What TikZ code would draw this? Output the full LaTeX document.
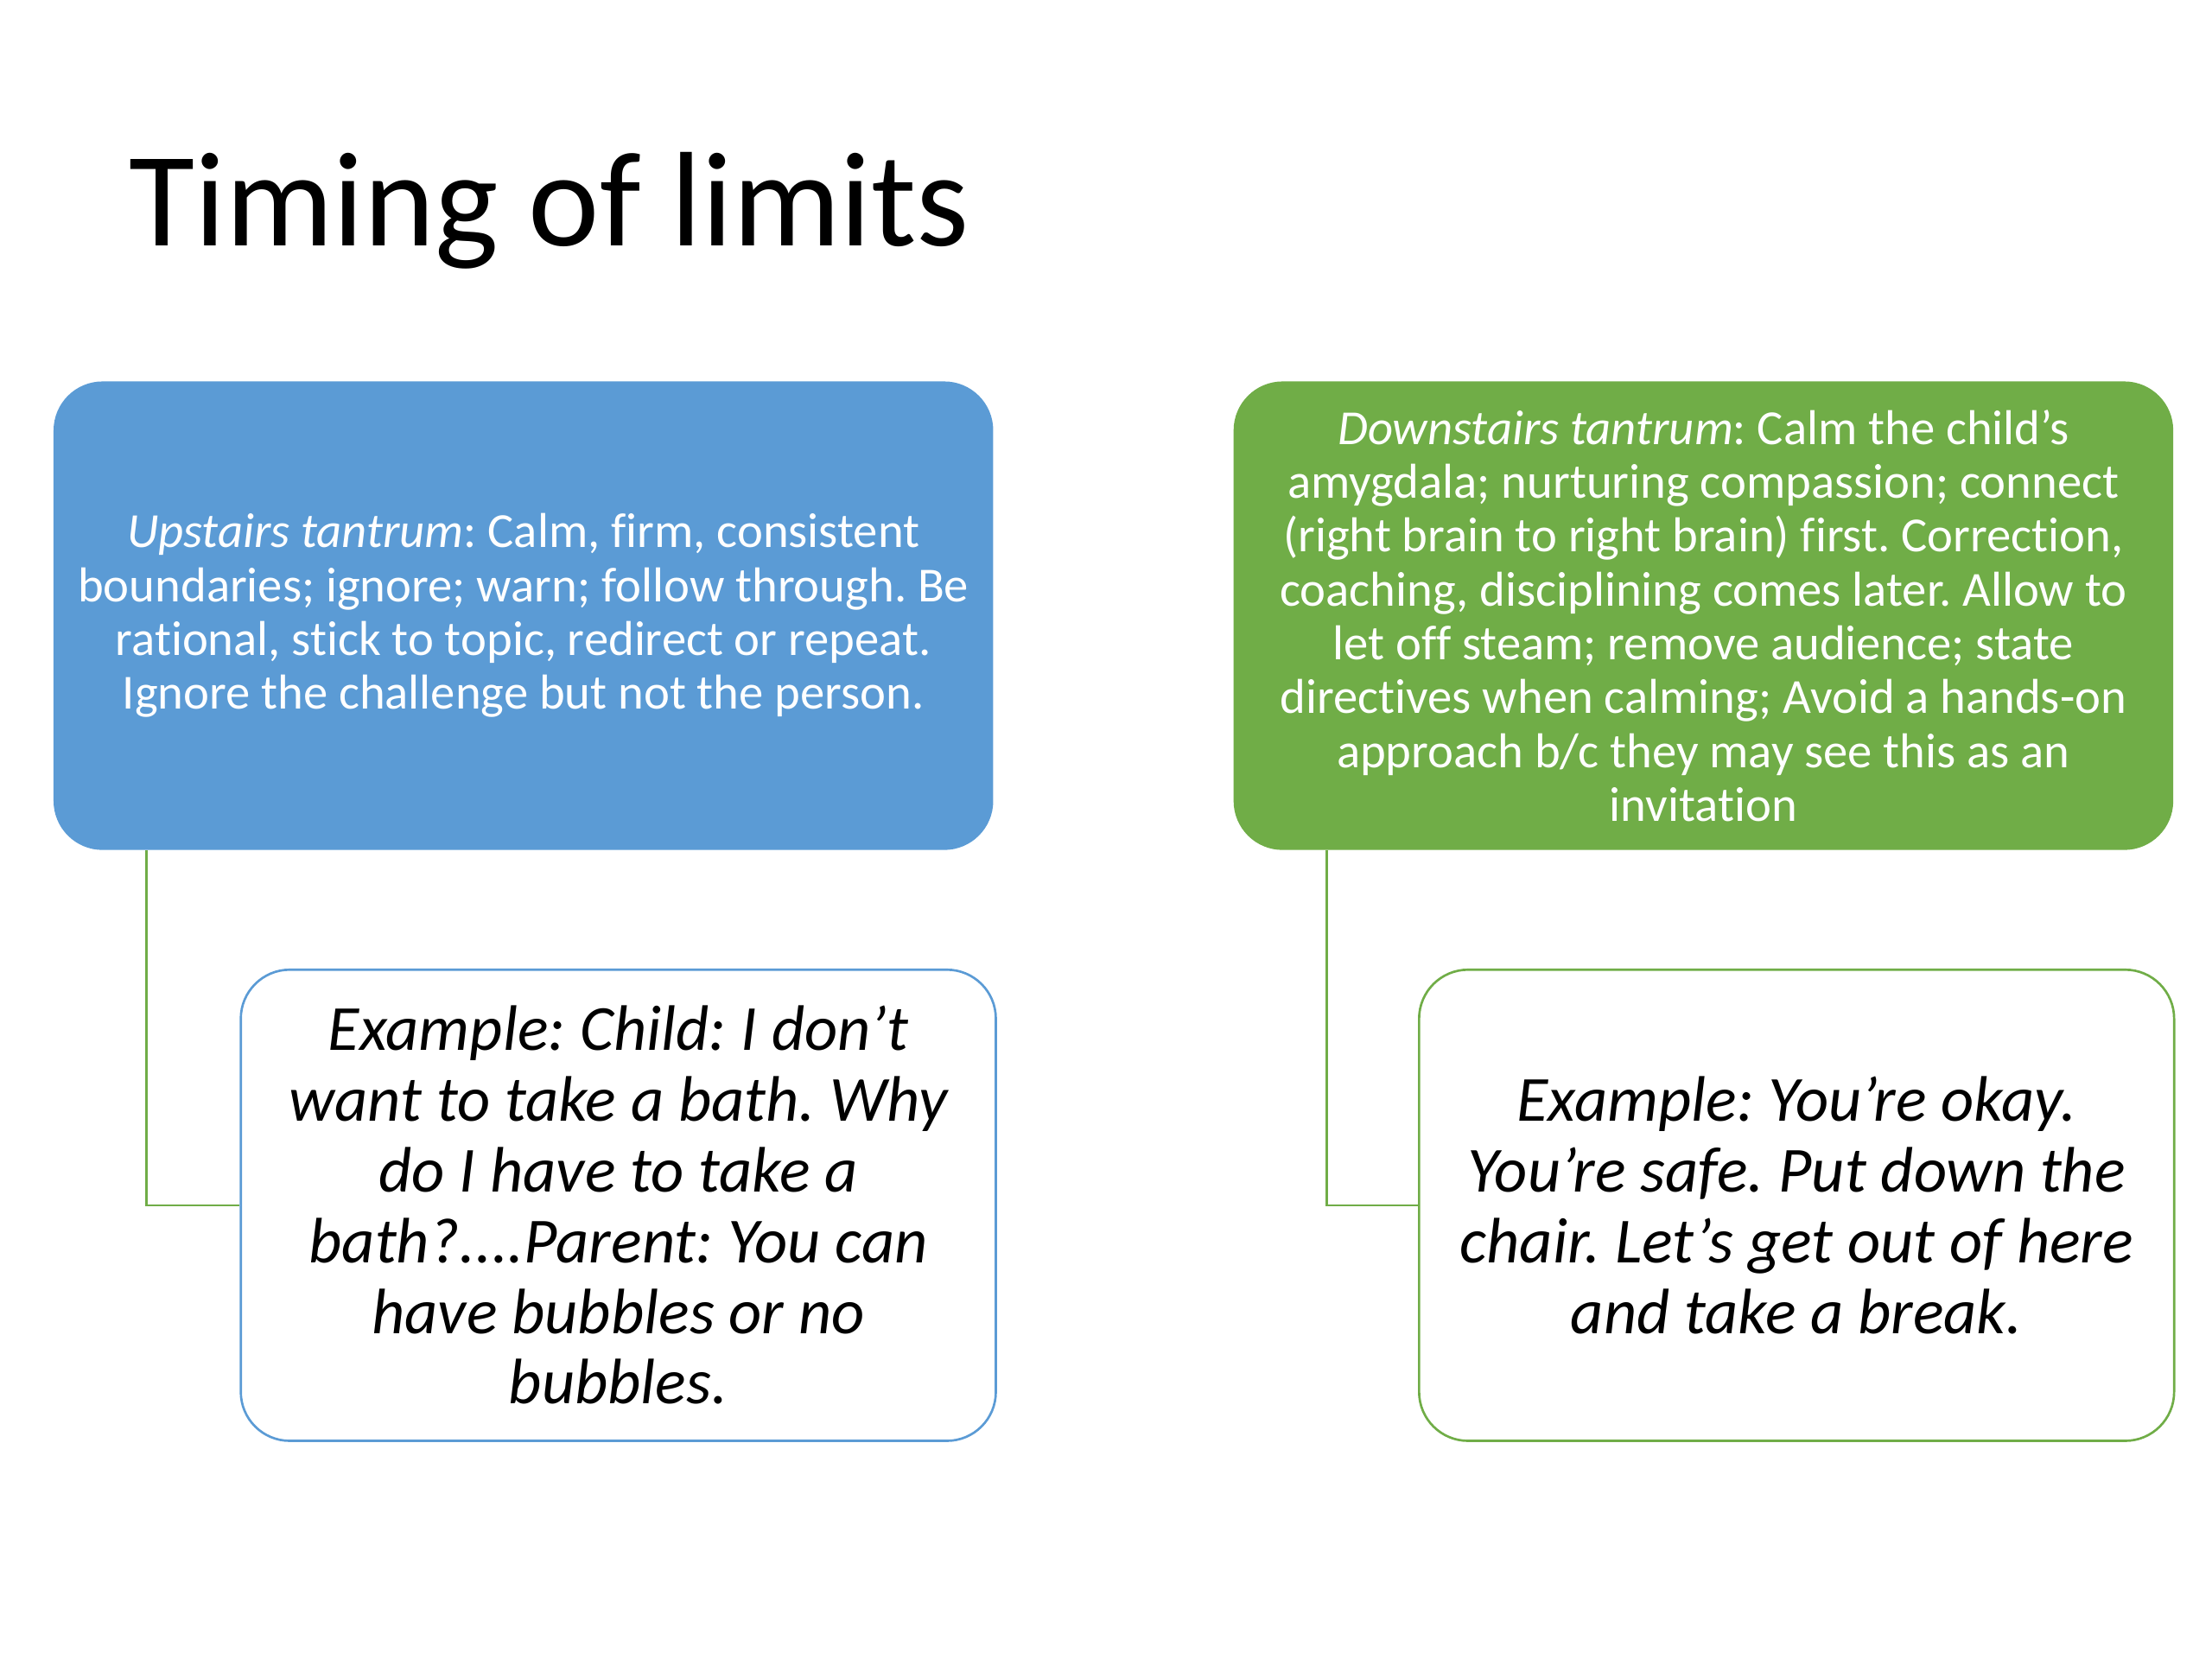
\documentclass[tikz,border=0pt]{standalone}
\usepackage{fontspec}
\setmainfont{Carlito}[Ligatures=NoCommon]
\definecolor{blue1}{RGB}{91, 155, 213}
\definecolor{green1}{RGB}{112, 173, 71}
\usetikzlibrary{positioning, calc}
\frenchspacing

\tikzset{
  tantrum/.style={rounded corners=16pt, minimum width=10.79cm, minimum height=5.38cm, inner sep=0pt, text=white, align=center, font=\fontsize{16}{17.6}\selectfont},
  example/.style={draw, line width=0.75pt, fill=white, rounded corners=16pt, minimum width=8.67cm, minimum height=5.41cm, inner sep=0pt, align=center, font=\fontsize{21}{23.1}\selectfont\itshape},
  link/.style={draw=green1, line width=0.75pt}
}

\begin{document}
\begin{tikzpicture}
  \useasboundingbox (0,0) rectangle (25.4,19.05);

  \node[anchor=base west, font=\fontsize{44}{53}\selectfont] (title) at (1.36,16.23) {Timing of limits};

  % upper boxes
  \node[tantrum, fill=blue1] (upstairs) at (6.01,11.98) {
    \textit{Upstairs tantrum}: Calm, firm, consistent\\
    boundaries; ignore; warn; follow through. Be\\
    rational, stick to topic, redirect or repeat.\\
    Ignore the challenge but not the person.
  };
  \node[tantrum, fill=green1] (downstairs) at (19.56,11.98) {
    \textit{Downstairs tantrum}: Calm the child’s\\
    amygdala; nurturing compassion; connect\\
    (right brain to right brain) first. Correction,\\
    coaching, disciplining comes later. Allow to\\
    let off steam; remove audience; state\\
    directives when calming; Avoid a hands-on\\
    approach b/c they may see this as an\\
    invitation
  };

  % example boxes
  \node[example, draw=blue1] (upex) at (7.10,5.21) {
    Example: Child: I don’t\\
    want to take a bath. Why\\
    do I have to take a\\
    bath?....Parent: You can\\
    have bubbles or no\\
    bubbles.
  };
  \node[example, draw=green1] (downex) at (20.63,5.21) {
    Example: You’re okay.\\
    You’re safe. Put down the\\
    chair. Let’s get out of here\\
    and take a break.
  };

  \draw[link] ([xshift=1.075cm]upstairs.south west) |- (upex.west);
  \draw[link] ([xshift=1.075cm]downstairs.south west) |- (downex.west);
\end{tikzpicture}
\end{document}
